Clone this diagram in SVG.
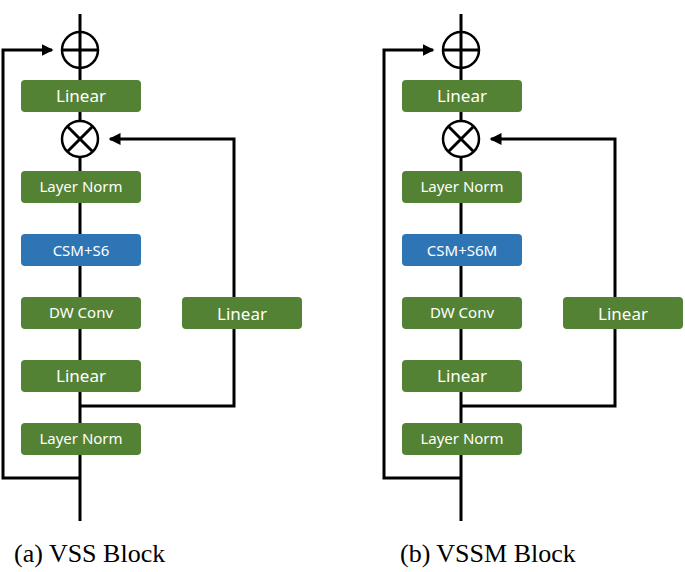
<svg xmlns="http://www.w3.org/2000/svg" width="685" height="572" viewBox="0 0 685 572">
<style>
.g{fill:#548235}.b{fill:#2E75B6}
.t{font-family:"Noto Sans","Liberation Sans",sans-serif;font-size:15px;fill:#fff;text-anchor:middle}
.tl{font-size:17px}
.l{stroke:#000;stroke-width:3;fill:none}
.c{stroke:#000;stroke-width:2.5;fill:#fff}
.cap{font-family:"Liberation Serif",serif;font-size:26px;fill:#000}
</style>
<defs>
<marker id="a" markerWidth="4" markerHeight="4" refX="3.5" refY="2" orient="auto" markerUnits="strokeWidth"><path d="M0,0L4,2L0,4z" fill="#000"/></marker>
<g id="blk">
<g id="conn">
<path class="l" d="M80,521V14"/>
<path class="l" d="M80,478H3V50H52" marker-end="url(#a)"/>
<path class="l" d="M80,406H234V139H110" marker-end="url(#a)"/>
</g>
<g id="plus"><circle class="c" cx="80" cy="50" r="18"/><path class="l" d="M62,50H98M80,32V68"/></g>
<g id="times"><circle class="c" cx="80" cy="139" r="18"/><path class="l" d="M67,126L93,152M93,126L67,152"/></g>
<g id="lin1"><rect class="g" x="21" y="80" width="120" height="32" rx="4"/><text class="t tl" x="81" y="102">Linear</text></g>
<g id="ln1"><rect class="g" x="21" y="171" width="120" height="32" rx="4"/><text class="t" x="81" y="192">Layer Norm</text></g>
<g id="dw"><rect class="g" x="21" y="297" width="120" height="32" rx="4"/><text class="t" x="81" y="318">DW Conv</text></g>
<g id="lin2"><rect class="g" x="21" y="360" width="120" height="32" rx="4"/><text class="t tl" x="81" y="382">Linear</text></g>
<g id="ln2"><rect class="g" x="21" y="423" width="120" height="32" rx="4"/><text class="t" x="81" y="444">Layer Norm</text></g>
<g id="lin3"><rect class="g" x="182" y="297" width="120" height="32" rx="4"/><text class="t tl" x="242" y="320">Linear</text></g>
</g>
</defs>
<g id="blockA">
<use href="#blk"/>
<g id="csmA"><rect class="b" x="21" y="234" width="120" height="32" rx="4"/><text class="t" x="81" y="256">CSM+S6</text></g>
<text class="cap" x="14" y="562">(a) VSS Block</text>
</g>
<g id="blockB" transform="translate(381,0)">
<use href="#blk"/>
<g id="csmB"><rect class="b" x="21" y="234" width="120" height="32" rx="4"/><text class="t" x="81" y="256">CSM+S6M</text></g>
<text class="cap" x="19" y="562">(b) VSSM Block</text>
</g>
</svg>
